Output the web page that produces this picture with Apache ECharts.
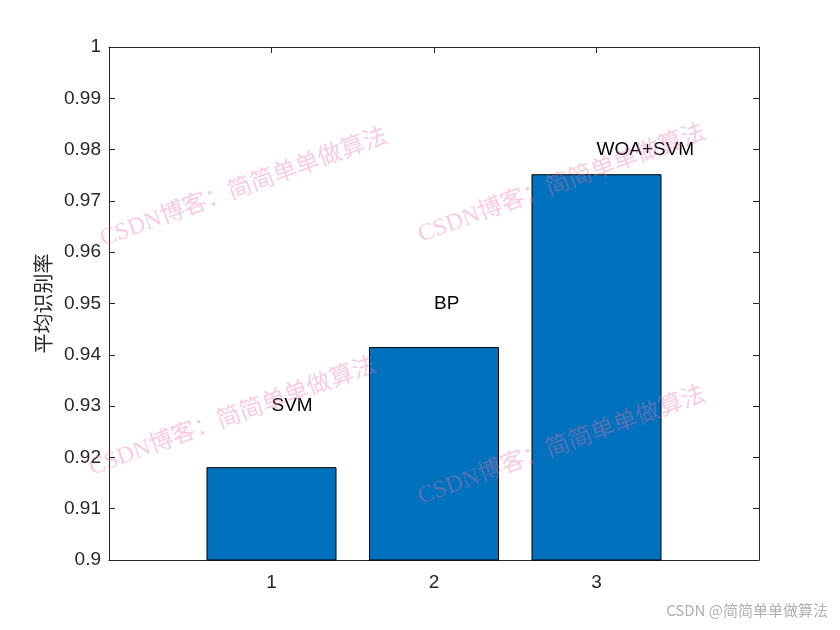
<!DOCTYPE html>
<html>
<head>
<meta charset="utf-8">
<script src="https://cdn.jsdelivr.net/npm/echarts@6/dist/echarts.min.js"></script>
<style>html,body{margin:0;padding:0;background:#fff;}#c{width:840px;height:630px;}</style>
</head>
<body>
<div id="c"></div>
<script>
var categories = [1, 2, 3];
var methodNames = ['SVM', 'BP', 'WOA+SVM'];
var accuracy = [0.9181, 0.9415, 0.9752];
var labelY = [0.93, 0.95, 0.98];
var yTicks = [0.9, 0.91, 0.92, 0.93, 0.94, 0.95, 0.96, 0.97, 0.98, 0.99, 1];
var yName = '平均识别率';
var watermark = 'CSDN博客：简简单单做算法';
var credit = 'CSDN @简简单单做算法';

var chart = echarts.init(document.getElementById('c'), null, {renderer: 'canvas'});
var axisColor = '#262626';
var font = 'Liberation Sans, Arial, Helvetica, sans-serif';

function yFmt(v) {
  return String(parseFloat(v.toFixed(2)));
}

var wmStyle = {
  fill: 'rgba(238,110,165,0.36)',
  font: '24px "Liberation Serif", "Noto Sans CJK SC", serif'
};
var wmCenters = [[244, 188], [562, 184], [233, 417], [562, 446]];
var graphics = wmCenters.map(function (c) {
  return {
    type: 'text', x: c[0], y: c[1], rotation: 20 * Math.PI / 180, z: 100,
    style: Object.assign({text: watermark, align: 'center', verticalAlign: 'middle'}, wmStyle),
    silent: true
  };
});
graphics.push({
  type: 'text', right: 12, top: 603, z: 100,
  style: {text: credit, fill: '#b0b0b0', font: '15px "Noto Sans CJK SC", sans-serif'}
});

var option = {
  backgroundColor: '#fff',
  animation: false,
  grid: {left: 109, right: 81, top: 47, bottom: 70, containLabel: false},
  xAxis: [{
    type: 'value', min: 0, max: 4, interval: 1,
    axisLine: {show: true, onZero: false, lineStyle: {color: axisColor, width: 1}},
    axisTick: {show: true, inside: true, length: 6, lineStyle: {color: axisColor}},
    axisLabel: {
      color: axisColor, fontSize: 19, fontFamily: font, margin: 13,
      formatter: function (v) { return (v === 0 || v === 4) ? '' : String(v); }
    },
    splitLine: {show: false}
  }, {
    type: 'value', min: 0, max: 4, interval: 1, position: 'top',
    axisLine: {show: true, onZero: false, lineStyle: {color: axisColor, width: 1}},
    axisTick: {show: true, inside: true, length: 6, lineStyle: {color: axisColor}},
    axisLabel: {show: false}, splitLine: {show: false}
  }],
  yAxis: [{
    type: 'value', min: yTicks[0], max: yTicks[yTicks.length - 1], interval: 0.01,
    name: yName, nameLocation: 'middle', nameGap: 56, nameRotate: 90,
    nameTextStyle: {color: axisColor, fontSize: 20, fontFamily: '"Noto Sans CJK SC", sans-serif'},
    axisLine: {show: true, onZero: false, lineStyle: {color: axisColor, width: 1}},
    axisTick: {show: true, inside: true, length: 6, lineStyle: {color: axisColor}},
    axisLabel: {color: axisColor, fontSize: 19, fontFamily: font, margin: 8, formatter: yFmt},
    splitLine: {show: false}
  }, {
    type: 'value', min: yTicks[0], max: yTicks[yTicks.length - 1], interval: 0.01, position: 'right',
    axisLine: {show: true, onZero: false, lineStyle: {color: axisColor, width: 1}},
    axisTick: {show: true, inside: true, length: 6, lineStyle: {color: axisColor}},
    axisLabel: {show: false}, splitLine: {show: false}
  }],
  series: [{
    type: 'bar',
    xAxisIndex: 0, yAxisIndex: 0,
    barWidth: 130,
    data: categories.map(function (c, i) { return [c, accuracy[i]]; }),
    itemStyle: {color: '#0072BD', borderColor: '#000', borderWidth: 1}
  }, {
    type: 'scatter',
    xAxisIndex: 0, yAxisIndex: 0,
    symbolSize: 0,
    itemStyle: {opacity: 1},
    data: categories.map(function (c, i) { return {value: [c, labelY[i]], name: methodNames[i]}; }),
    label: {
      show: true, position: 'right', distance: 0,
      formatter: function (p) { return p.name; },
      color: '#000', fontSize: 19, fontFamily: font,
      textBorderWidth: 0, opacity: 1
    },
    silent: true
  }],
  graphic: graphics
};
chart.setOption(option);
</script>
</body>
</html>
